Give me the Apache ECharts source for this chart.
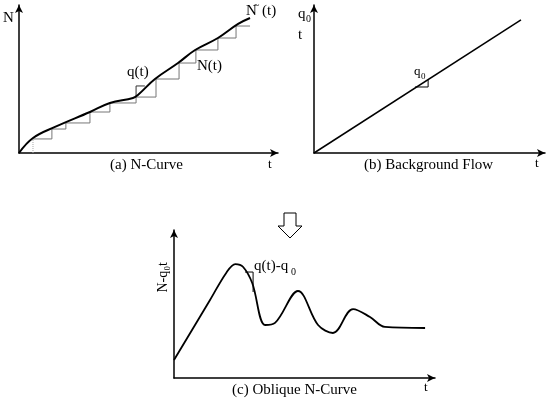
<!DOCTYPE html>
<html><head><meta charset="utf-8">
<script src="https://cdn.jsdelivr.net/npm/echarts@6/dist/echarts.min.js"></script>
<style>body{margin:0;background:#fff}#c{width:550px;height:402px}</style></head>
<body><div id="c"></div>
<script>
// Panel (a) smooth cumulative curve N~(t)
const curveA = [[0,0],[5.4,10.1],[13.9,17.6],[27.4,27.7],[35.1,33.8],[44,37.2],[45.9,39.2],[52.5,50],[61.4,60.8],[68,69.6],[76.8,77.7],[84.6,87.2],[89.2,91.2]];
// Panel (a) staircase N(t)
const stepA = [[5.4,9.5],[12.7,9.5],[12.7,16.2],[18.1,16.2],[18.1,20.3],[27.4,20.3],[27.4,27.7],[35.1,27.7],[35.1,33.8],[45.2,33.8],[45.2,37.8],[52.9,37.8],[52.9,50],[61.8,50],[61.8,60.8],[68.3,60.8],[68.3,69.6],[76.8,69.6],[76.8,77.7],[83.8,77.7],[83.8,85.8],[89.2,85.8]];
const boxA = [[45.2,37.8],[45.2,45.3],[48.6,45.3]];
// Panel (b) background flow line
const lineB = [[0,0],[89.6,89.9]];
const markB = [[43.7,44.6],[49.4,44.6],[49.4,49.3]];
// Panel (c) oblique curve
const curveC = [[0,12.2],[13.8,52.7],[20,71],[23.5,77],[26.5,75],[30,64],[34.9,35.8],[38.7,37.2],[47.5,58.8],[55.2,35.8],[60.9,30.4],[68.6,46.6],[75.1,41.2],[80.8,34.5],[96.2,33.8]];
const markC = [[27.2,71.6],[30.3,71.6],[30.3,58.1]];

const F = 'Liberation Serif';
const grids = [
  {left:19, top:5, width:259, height:148},
  {left:314, top:5, width:231, height:148},
  {left:174, top:230, width:261, height:148}
];
const ax = (i)=>({gridIndex:i,type:'value',min:0,max:100,splitLine:{show:false},axisTick:{show:false},axisLabel:{show:false},
  axisLine:{lineStyle:{color:'#000',width:1.5},symbol:['none','arrow'],symbolSize:[6,8]}});
const s = (i,data,opt)=>Object.assign({type:'line',xAxisIndex:i,yAxisIndex:i,data,symbol:'none',silent:true},opt);
const txt = (x,y,t,sz,extra)=>Object.assign({type:'text',left:x,top:y,style:{text:t,font:(sz||14)+'px '+F,fill:'#000'}},extra||{});
const chart = echarts.init(document.getElementById('c'));
chart.setOption({
  animation:false,
  grid:grids,
  xAxis:[ax(0),ax(1),ax(2)],
  yAxis:[ax(0),ax(1),ax(2)],
  series:[
    s(0,stepA,{lineStyle:{color:'#777',width:1}}),
    s(0,boxA,{lineStyle:{color:'#333',width:1}}),
    s(0,[[5.4,0],[5.4,9.5]],{lineStyle:{color:'#aaa',width:1,type:'dotted'}}),
    s(0,curveA,{smooth:0.4,lineStyle:{color:'#000',width:2}}),
    s(1,lineB,{lineStyle:{color:'#000',width:1.5}}),
    s(1,markB,{lineStyle:{color:'#000',width:1}}),
    s(2,curveC,{smooth:0.35,lineStyle:{color:'#000',width:1.8}}),
    s(2,markC,{lineStyle:{color:'#000',width:1}})
  ],
  graphic:[
    txt(3,11,'N',15), txt(268,158,'t',13), txt(246,4,'N',15), txt(254,0,'~',10), txt(262,4,'(t)',15),
    txt(127,65,'q(t)',15), txt(197,59,'N(t)',15), txt(110,158,'(a) N-Curve',15),
    txt(298,7,'q',15), txt(306,14,'0',10), txt(298,28,'t',15), txt(535,157,'t',13),
    txt(414,65,'q',13), txt(421,72,'0',9), txt(364,158,'(b) Background Flow',15),
    txt(254,259,'q(t)-q',15), txt(291,267,'0',10), txt(424,381,'t',13), txt(232,383,'(c) Oblique N-Curve',15),
    {type:'text',left:156,top:262,rotation:Math.PI/2,style:{text:'N-q₀t',font:'14px '+F,fill:'#000'}},
    {type:'polygon',shape:{points:[[284,213],[296,213],[296,226],[302,226],[290,238],[278,226],[284,226]]},style:{fill:'#fff',stroke:'#000',lineWidth:1}}
  ]
});
</script></body></html>
